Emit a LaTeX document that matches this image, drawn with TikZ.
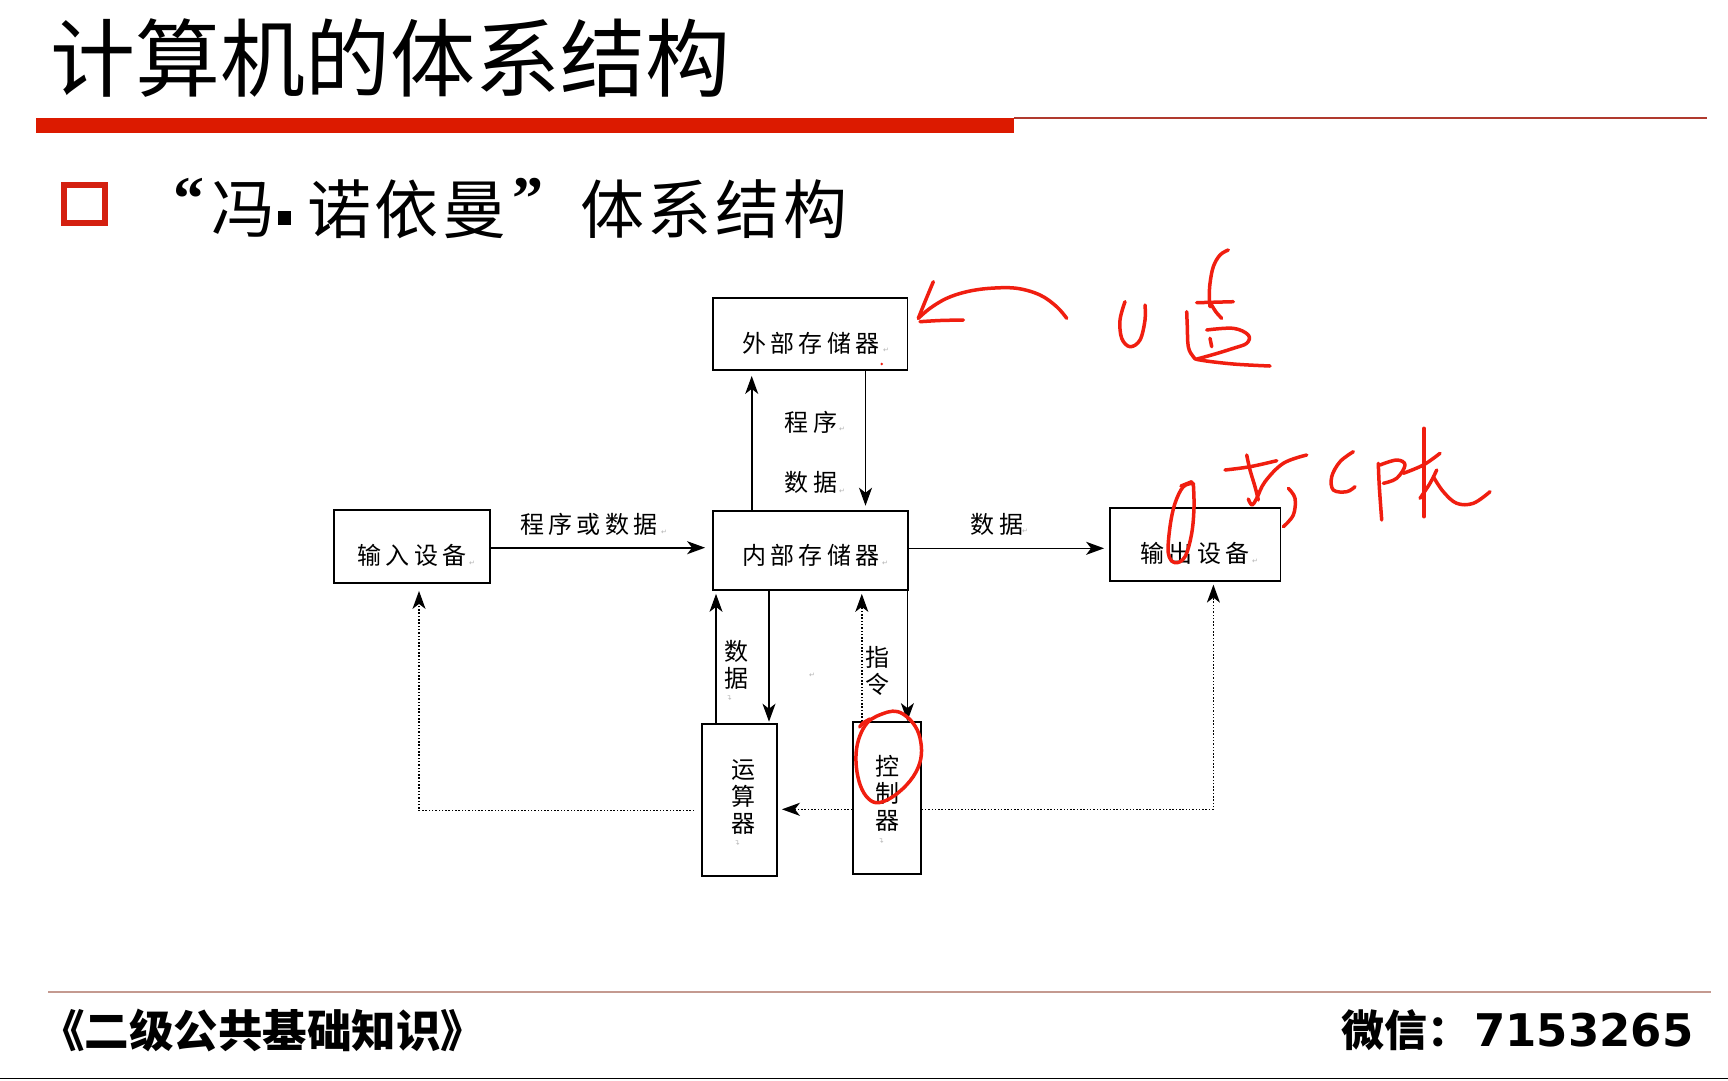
\documentclass[tikz,border=0pt]{standalone}
\usepackage{fontspec}
\usepackage{graphicx}
\usetikzlibrary{arrows.meta}
\newfontfamily\cjk{Noto Sans CJK SC}
\newfontfamily\cjksp[LetterSpace=18]{Noto Sans CJK SC}
\newfontfamily\cjksub[LetterSpace=6]{Noto Sans CJK SC}
\newfontfamily\qfont{Liberation Serif}
\newfontfamily\digfont{DejaVu Sans}
\newfontfamily\symfont{DejaVu Sans}
\definecolor{barred}{HTML}{DC1A00}
\definecolor{thinred}{HTML}{B03A2E}
\definecolor{sqred}{HTML}{D42010}
\definecolor{footline}{HTML}{C49A90}
\definecolor{hwred}{HTML}{F01E10}
\tikzset{
  box/.style={draw=black, line width=1.8pt, inner sep=0pt, fill=white},
  lab/.style={inner sep=0pt, font=\cjksp\fontsize{24}{27}\selectfont},
  vlab/.style={inner sep=0pt, align=center, font=\cjk\fontsize{24}{27}\selectfont},
  arr/.style={line width=1.6pt, -{Stealth[length=18pt,width=13pt,inset=5pt]}},
  dotarr/.style={line width=1.5pt, dash pattern=on 1.5pt off 1.8pt, -{Stealth[length=18pt,width=13pt,inset=5pt]}},
  hw/.style={draw=hwred, line width=3.5pt, line cap=round, line join=round},
  pmark/.style={inner sep=0pt, text=gray!60, font=\symfont\fontsize{7}{7}\selectfont}
}
\begin{document}
\begin{tikzpicture}[x=1pt,y=-1pt]
\useasboundingbox (0,0) rectangle (1728,1080);
\fill[white] (0,0) rectangle (1728,1080);

% header
\node[inner sep=0pt, anchor=west, font=\cjk\fontsize{85}{85}\selectfont] (title) at (50,58.5) {计算机的体系结构};
\fill[barred] (36,118) rectangle (1014,133);
\draw[thinred, line width=2pt] (1014,117.5) -- (1707,117.5);

% subtitle
\draw[sqred, line width=6pt] (63.6,185) rectangle (105,223);
\node[inner sep=0pt, font=\qfont\bfseries\fontsize{62}{62}\selectfont] (q1) at (189,199) {“};
\node[inner sep=0pt, font=\cjk\fontsize{64}{64}\selectfont] (feng) at (243,209) {冯};
\fill[black] (277.5,211) rectangle (291,225);
\node[inner sep=0pt, anchor=west, font=\cjksub\fontsize{64}{64}\selectfont] (nuo) at (307,209) {诺依曼};
\node[inner sep=0pt, font=\qfont\bfseries\fontsize{62}{62}\selectfont] (q2) at (528,199) {”};
\node[inner sep=0pt, anchor=west, font=\cjksub\fontsize{64}{64}\selectfont] (sub) at (580,209) {体系结构};

% boxes
\node[box, minimum width=194.5pt, minimum height=72pt] (ext) at (810.25,334) {};
\node[box, minimum width=195pt, minimum height=79.3pt] (mem) at (810.5,550.3) {};
\node[box, minimum width=156pt, minimum height=73pt] (inp) at (412,546.5) {};
\node[box, minimum width=170.5pt, minimum height=72.4pt] (out) at (1195.25,544.5) {};
\node[box, minimum width=75pt, minimum height=152pt] (alu) at (739.5,799.6) {};
\node[box, minimum width=67.7pt, minimum height=152pt] (ctl) at (886.85,798) {};

% box texts
\node[lab] (extT) at (811,343) {外部存储器};
\node[lab] (memT) at (811,555) {内部存储器};
\node[lab] (inpT) at (412,555) {输入设备};
\node[lab] (outT) at (1195,553) {输出设备};
\node[vlab] (aluT) at (743.6,797.5) {运\\算\\器};
\node[vlab] (ctlT) at (887.5,793.5) {控\\制\\器};

% edge labels
\node[lab] (l1) at (811,422) {程序};
\node[lab] (l2) at (811,482) {数据};
\node[lab] (l3) at (589,524) {程序或数据};
\node[lab] (l4) at (997,524) {数据};
\node[vlab] (l5) at (736,665) {数\\据};
\node[vlab] (l6) at (877.6,670.5) {指\\令};

% paragraph marks
\node[pmark] (m1) at (886,350) {↵};
\node[pmark] (m2) at (472,563) {↵};
\node[pmark] (m3) at (885,563) {↵};
\node[pmark] (m4) at (842,429) {↵};
\node[pmark] (m5) at (842,491) {↵};
\node[pmark] (m6) at (664,532) {↵};
\node[pmark] (m7) at (1025,531) {↵};
\node[pmark] (m8) at (1255,561) {↵};
\node[pmark] (m9) at (812,675) {↵};
\node[pmark, rotate=90] (m10) at (730,698) {↵};
\node[pmark, rotate=90] (m11) at (738,843) {↵};
\node[pmark, rotate=90] (m12) at (882,841) {↵};

% connectors
\coordinate (xA) at (751.7,0);
\coordinate (xB) at (865.5,0);
\coordinate (yC) at (0,547.7);
\coordinate (yD) at (0,548.3);
\coordinate (xE) at (716,0);
\coordinate (xF) at (769,0);
\coordinate (xG) at (907.4,0);
\coordinate (xH) at (861.8,0);
\coordinate (yI) at (0,809.3);
\coordinate (xJ) at (1213.4,0);
\coordinate (yK) at (0,810.7);
\coordinate (xL) at (419,0);

\draw[arr, shorten >=5pt] (xA |- mem.north) -- (xA |- ext.south);
\draw[arr, shorten >=4pt] (xB |- ext.south) -- (xB |- mem.north);
\draw[arr, shorten >=7pt] (inp.east |- yC) -- (mem.west |- yC);
\draw[arr, shorten >=5pt] (mem.east |- yD) -- (out.west |- yD);
\draw[arr, shorten >=3pt] (xE |- alu.north) -- (xE |- mem.south);
\draw[arr, shorten >=1pt] (xF |- mem.south) -- (xF |- alu.north);
\draw[arr] (xG |- mem.south) -- (xG |- ctl.north);
\draw[dotarr, shorten >=3pt] (xH |- ctl.north) -- (xH |- mem.south);
\draw[dotarr, shorten >=4pt] (ctl.west |- yI) -- (alu.east |- yI);
\draw[dotarr, shorten >=3pt] (ctl.east |- yI) -| (xJ |- out.south);
\draw[dotarr, shorten <=7pt, shorten >=7pt] (alu.west |- yK) -| (xL |- inp.south);

% footer
\draw[footline, line width=1.5pt] (48,992) -- (1711,992);
\node[inner sep=0pt, anchor=west, font=\cjk\bfseries\fontsize{44.5}{44.5}\selectfont] (foot1) at (40,1030) {《二级公共基础知识》};
\node[inner sep=0pt, anchor=west, font=\cjk\bfseries\fontsize{43}{43}\selectfont] (foot2) at (1341,1030) {微信：};
\node[inner sep=0pt, anchor=west, font=\digfont\bfseries\fontsize{45}{45}\selectfont] (foot3) at (1474,1030) {7153265};
\draw[black, line width=1.2pt] (0,1078.5) -- (1728,1078.5);

% handwriting: arrow to external storage
\draw[hw] plot[smooth, tension=0.6] coordinates {(1066.7,318.3) (1056.7,306.7) (1040,295) (1016.7,288.3) (990,288.3) (966.7,291.7) (946.7,298.3) (930,308.3) (918.3,318.3)};
\draw[hw] plot[smooth, tension=0.6] coordinates {(933.3,281.7) (925,301.7) (918.3,318.3)};
\draw[hw] plot[smooth, tension=0.6] coordinates {(920,321.7) (940,320.5) (963.3,320)};
% "U"
\draw[hw] plot[smooth, tension=0.6] coordinates {(1125,301.7) (1120,320) (1121.7,338.3) (1130,346.7) (1140,340) (1145,320) (1145,305)};
% character
\draw[hw] plot[smooth, tension=0.6] coordinates {(1228.3,250) (1220,255) (1213.3,266.7) (1210,283.3) (1209.3,296.7) (1210,306.7)};
\draw[hw] (1196.7,302.7) -- (1233.3,301.7);
\draw[hw] plot[smooth, tension=0.6] coordinates {(1211,304) (1216,312) (1221.7,318.3)};
\draw[hw] plot[smooth, tension=0.6] coordinates {(1206.7,330) (1233.3,328.3) (1248.3,335) (1246.7,343.3) (1233.3,348.3) (1215,354) (1197,359)};
\draw[hw] (1210,338.3) -- (1211.7,346.7);
\draw[hw] plot[smooth, tension=0.6] coordinates {(1186.7,311.7) (1187.3,326.7) (1188.3,346.7) (1193.3,356.7) (1200,360) (1233.3,364) (1270,366)};

% handwriting: printer
\draw[hw] plot[smooth, tension=0.6] coordinates {(1181,486) (1191.7,481.7)};
\draw[hw] plot[smooth, tension=0.6] coordinates {(1193.3,483.3) (1183.3,486.7) (1175,503.3) (1170,526.7) (1168.3,553.3) (1175,562.7) (1185,556.7) (1191.7,533.3) (1194,506.7) (1193.3,483.3)};
\draw[hw] plot[smooth, tension=0.6] coordinates {(1225,470) (1250,466.7) (1276.7,460.7)};
\draw[hw] plot[smooth, tension=0.6] coordinates {(1246.7,455) (1250,470) (1255,486.7) (1258.3,500)};
\draw[hw] plot[smooth, tension=0.6] coordinates {(1306.7,455) (1283.3,463.3) (1265,481.7) (1256.7,498.3) (1252,505) (1248.3,499)};
\draw[hw] plot[smooth, tension=0.6] coordinates {(1288.3,488.3) (1295,498.3) (1293.3,515) (1283.3,526.7)};
\draw[hw] plot[smooth, tension=0.6] coordinates {(1353.3,451.7) (1340,461.7) (1331.7,476.7) (1333.3,490) (1346.7,491.7) (1355,486.7)};
\draw[hw] plot[smooth, tension=0.6] coordinates {(1378.3,463.3) (1379.3,486.7) (1381.7,520)};
\draw[hw] plot[smooth, tension=0.6] coordinates {(1380,465) (1396.7,460) (1405,465) (1396.7,478.3) (1383.3,483.3)};
\draw[hw] (1424,428.3) -- (1424,516.7);
\draw[hw] plot[smooth, tension=0.6] coordinates {(1403.3,473.3) (1423.3,465) (1440,453.3)};
\draw[hw] plot[smooth, tension=0.6] coordinates {(1436.7,470) (1430,483.3) (1420,498.3)};
\draw[hw] plot[smooth, tension=0.6] coordinates {(1433.3,476.7) (1443.3,491.7) (1456.7,503.3) (1473.3,503.3) (1490,491.7)};

% handwriting: circle on controller
\draw[hw] plot[smooth cycle, tension=0.7] coordinates {(903,714) (920,738) (916,772) (887,800) (866,796) (856,762) (863,729) (882,714)};
\draw[hw] plot[smooth, tension=0.6] coordinates {(870,719) (863,723) (859.7,727)};
\fill[hwred] (881.7,364) circle (1.3);
\end{tikzpicture}
\end{document}
